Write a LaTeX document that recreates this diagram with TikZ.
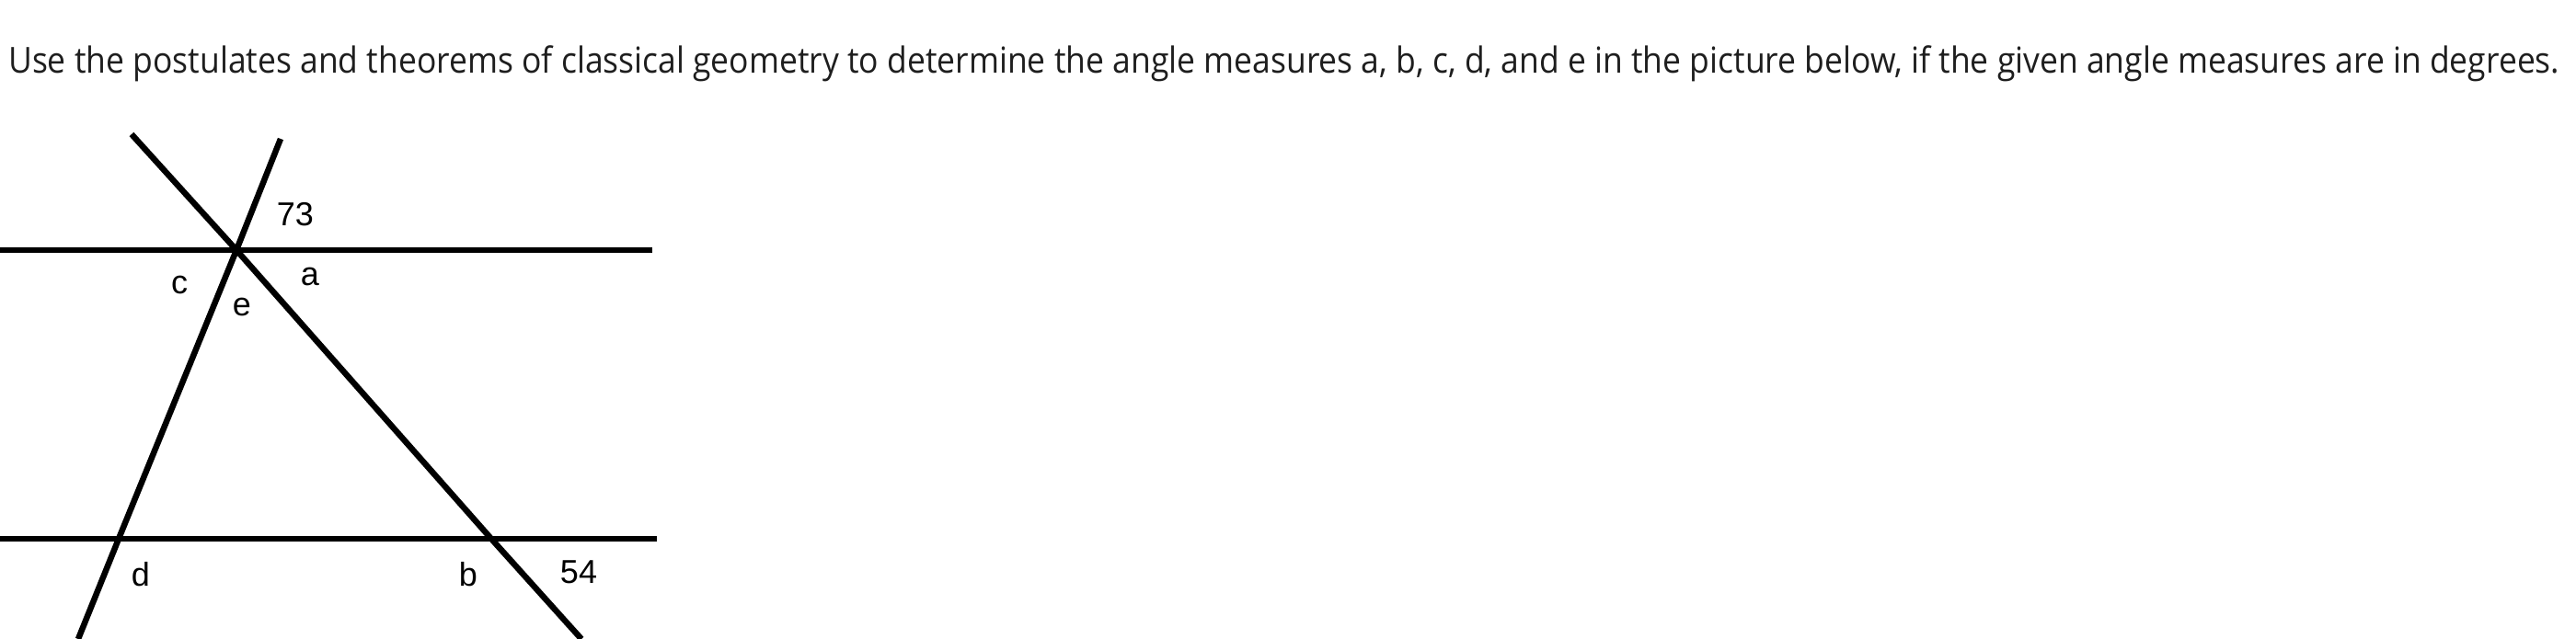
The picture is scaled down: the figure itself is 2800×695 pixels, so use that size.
\documentclass[tikz,border=0pt]{standalone}
\usepackage{fontspec}
\setmainfont{Open Sans}
\newfontfamily\labelfont{Liberation Sans}
\definecolor{prose}{HTML}{1E1E1E}
\begin{document}
\begin{tikzpicture}[x=1pt,y=-1pt,
  geoline/.style={line width=6.5pt,black},
  anglelabel/.style={font=\labelfont\fontsize{36}{40}\selectfont,anchor=base,inner sep=0pt}]
\useasboundingbox[fill=white] (0,0) rectangle (2800,695);
% question
\node[anchor=base west,inner sep=0pt,text=prose] (q) at (9,80)
  {\resizebox{2773pt}{\height}{\fontsize{39}{47}\selectfont Use the postulates and theorems of classical geometry to determine the angle measures a, b, c, d, and e in the picture below, if the given angle measures are in degrees.}};
% points
\coordinate (P) at (257,272);
\coordinate (Q) at (129,586);
\coordinate (R) at (534,586);
\coordinate (t1) at (0,272);
\coordinate (t2) at (709,272);
\coordinate (b1) at (0,586);
\coordinate (b2) at (714,586);
\coordinate (f1) at (143,146);
\coordinate (f2) at (632,695);
\coordinate (r1) at (305,151);
\coordinate (r2) at (85,695);
% lines
\draw[geoline] (t1) -- (t2);
\draw[geoline] (b1) -- (b2);
\draw[geoline] (f1) -- (P) -- (R) -- (f2);
\draw[geoline] (r1) -- (P) -- (Q) -- (r2);
% labels
\node[anglelabel] (l73) at (321,246) {73};
\node[anglelabel] (la) at (337,310) {a};
\node[anglelabel] (lc) at (195,319) {c};
\node[anglelabel] (le) at (263,343) {e};
\node[anglelabel] (ld) at (153,637) {d};
\node[anglelabel] (lb) at (509,637) {b};
\node[anglelabel] (l54) at (629,634) {54};
\end{tikzpicture}
\end{document}
